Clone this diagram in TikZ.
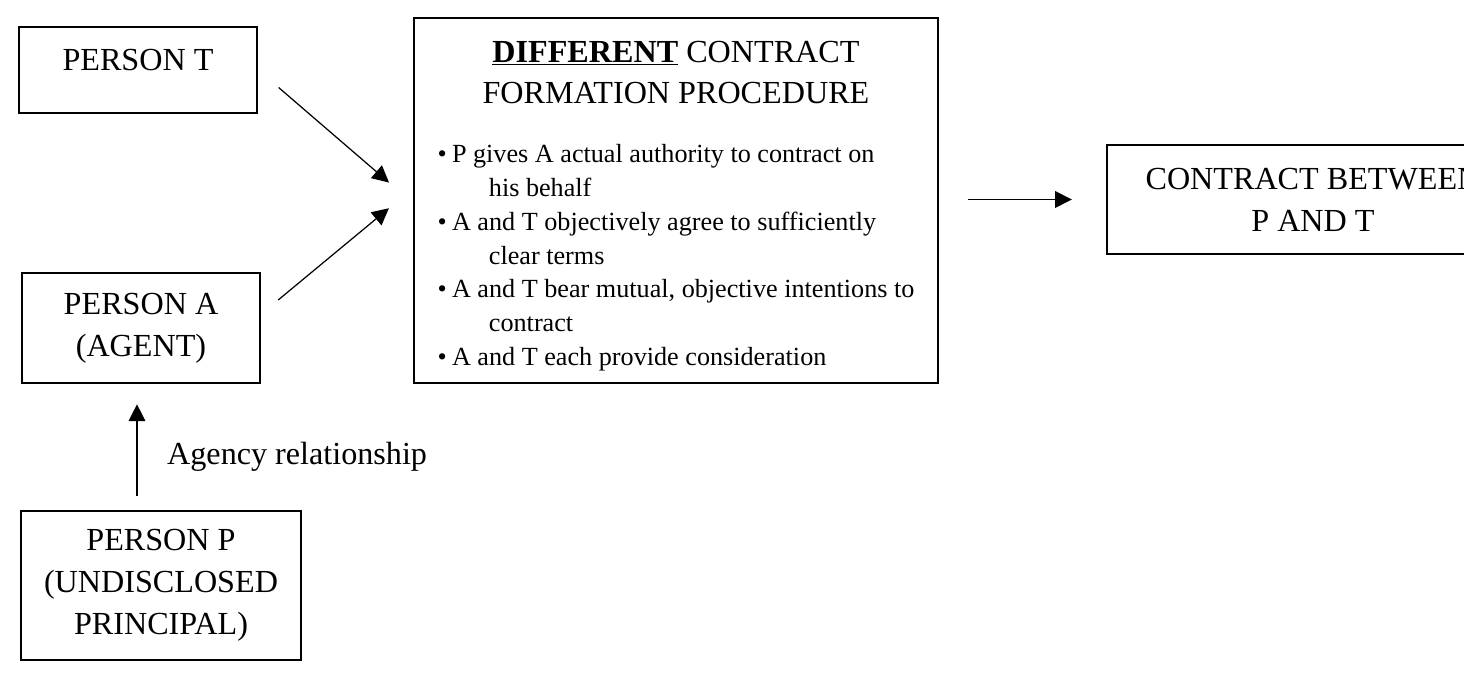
\documentclass[tikz,border=0pt]{standalone}
\usepackage{fontspec}
\setmainfont{Liberation Serif}
\usetikzlibrary{arrows.meta}
\tikzstyle{boxes} = [rectangle, draw=black, line width=1.5pt, text centered, align=center, font=\fontsize{18.3}{24}\selectfont]
\tikzstyle{arrow} = [line width=0.7pt, -{Triangle[length=9.5pt, width=9.5pt]}]
\tikzstyle{note} = [anchor=west, font=\fontsize{18.3}{24}\selectfont]

\begin{document}
\begin{tikzpicture}[x=0.02cm, y=-0.02cm]
    \useasboundingbox (0,0) rectangle (1464,688);
    \clip (0,0) rectangle (1464,688);

    %Main Nodes
    \node (persT) [boxes, minimum width=4.76cm, minimum height=1.72cm, text depth=11pt] at (138,70) {PERSON T};
    \node (persA) [boxes, minimum width=4.76cm, minimum height=2.2cm] at (141,328) {PERSON A\\(AGENT)};
    \node (persP) [boxes, minimum width=5.6cm, minimum height=2.98cm] at (161,585.5) {PERSON P\\(UNDISCLOSED\\PRINCIPAL)};
    \node (proc) [boxes, minimum width=10.48cm, minimum height=7.3cm, font=\fontsize{18.3}{23.3}\selectfont] at (676,200.5) {\rule{0pt}{20.8pt}\underline{\textbf{DIFFERENT}} CONTRACT\\
        FORMATION PROCEDURE\\[10.8pt]
        {\fontsize{14.9}{19.2}\selectfont
        \begin{tabular}[t]{@{}l@{\hspace{3pt}}l@{}}
            \textbullet & P gives A actual authority to contract on\\
                        & \hspace{21pt}his behalf\\
            \textbullet & A and T objectively agree to sufficiently\\
                        & \hspace{21pt}clear terms\\
            \textbullet & A and T bear mutual, objective intentions to\\
                        & \hspace{21pt}contract\\
            \textbullet & A and T each provide consideration
        \end{tabular}}};
    \node (result) [boxes, minimum width=8.24cm, minimum height=2.18cm] at (1313,199.5) {CONTRACT BETWEEN\\P AND T};

    %Label
    \node (rel) [note] at (161,457) {Agency relationship};

    %Arrows
    \draw [arrow, shorten <=15.3pt, shorten >=17.8pt] (persT.east) -- ([yshift=-0.05cm]proc.west);
    \draw [arrow, shorten <=12.5pt, shorten >=17.6pt] ([yshift=0.28cm]persA.east) -- ([yshift=0.24cm]proc.west);
    \draw [arrow, shorten <=16.5pt, shorten >=19.3pt] (proc.east |- result.west) -- (result.west);
    \draw [arrow, shorten <=8pt, shorten >=11.4pt] ([xshift=-0.08cm]persA.south |- persP.north) -- ([xshift=-0.08cm]persA.south);

\end{tikzpicture}
\end{document}
